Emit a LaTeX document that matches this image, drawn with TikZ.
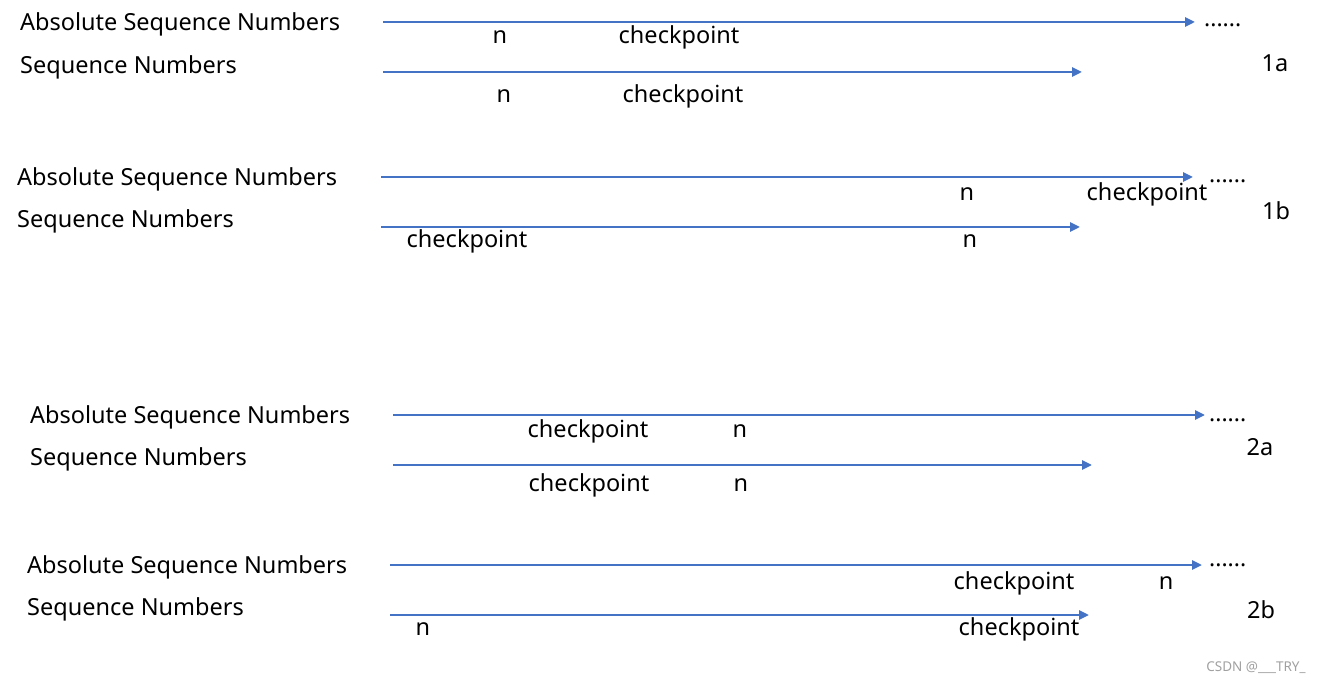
\documentclass[tikz,border=0pt]{standalone}
\usepackage{fontspec}
\setmainfont{Noto Sans}
\usetikzlibrary{arrows.meta}
\definecolor{arrowblue}{HTML}{4472C4}
\definecolor{wmgray}{HTML}{A0A0A0}
\tikzset{
  seqarrow/.style={draw=arrowblue, line width=2.7pt, -{Triangle[length=10pt,width=9pt]}},
  lbl/.style={inner sep=0pt, yshift=-1.5pt, font=\fontsize{23.5}{28}\selectfont},
  side/.style={lbl, anchor=west},
  dots/.style={inner sep=0pt, anchor=base west, font=\fontsize{23}{26}\selectfont},
}
\begin{document}
\begin{tikzpicture}[x=1pt,y=-1pt]
\useasboundingbox (0,0) rectangle (1320,684);
% ---- 1a
\node[side] (a1abs) at (20,23) {Absolute Sequence Numbers};
\node[side] (a1seq) at (20,66) {Sequence Numbers};
\coordinate (a1s1) at (383,22); \coordinate (a1e1) at (1195,22);
\coordinate (a1s2) at (383,72); \coordinate (a1e2) at (1082,72);
\draw[seqarrow] (a1s1) -- (a1e1);
\draw[seqarrow] (a1s2) -- (a1e2);
\node[lbl] (a1n1) at (500,36) {n};
\node[lbl] (a1c1) at (679,36) {checkpoint};
\node[lbl] (a1n2) at (504,95) {n};
\node[lbl] (a1c2) at (683,95) {checkpoint};
\node[dots] (a1d) at (1204,27) {......};
\node[lbl] (a1t) at (1275,62) {1a};
% ---- 1b
\node[side] (b1abs) at (17,178) {Absolute Sequence Numbers};
\node[side] (b1seq) at (17,220) {Sequence Numbers};
\coordinate (b1s1) at (381,177); \coordinate (b1e1) at (1193,177);
\coordinate (b1s2) at (381,227); \coordinate (b1e2) at (1080,227);
\draw[seqarrow] (b1s1) -- (b1e1);
\draw[seqarrow] (b1s2) -- (b1e2);
\node[lbl] (b1n1) at (967,193) {n};
\node[lbl] (b1c1) at (1147,193) {checkpoint};
\node[lbl] (b1c2) at (467,240) {checkpoint};
\node[lbl] (b1n2) at (970,240) {n};
\node[dots] (b1d) at (1209,183) {......};
\node[lbl] (b1t) at (1276,209) {1b};
% ---- 2a
\node[side] (a2abs) at (30,416) {Absolute Sequence Numbers};
\node[side] (a2seq) at (30,458) {Sequence Numbers};
\coordinate (a2s1) at (393,415); \coordinate (a2e1) at (1205,415);
\coordinate (a2s2) at (393,465); \coordinate (a2e2) at (1092,465);
\draw[seqarrow] (a2s1) -- (a2e1);
\draw[seqarrow] (a2s2) -- (a2e2);
\node[lbl] (a2c1) at (588,430) {checkpoint};
\node[lbl] (a2n1) at (740,430) {n};
\node[lbl] (a2c2) at (589,484) {checkpoint};
\node[lbl] (a2n2) at (741,484) {n};
\node[dots] (a2d) at (1209,421) {......};
\node[lbl] (a2t) at (1260,446) {2a};
% ---- 2b
\node[side] (b2abs) at (27,566) {Absolute Sequence Numbers};
\node[side] (b2seq) at (27,608) {Sequence Numbers};
\coordinate (b2s1) at (390,565); \coordinate (b2e1) at (1202,565);
\coordinate (b2s2) at (390,615); \coordinate (b2e2) at (1089,615);
\draw[seqarrow] (b2s1) -- (b2e1);
\draw[seqarrow] (b2s2) -- (b2e2);
\node[lbl] (b2c1) at (1014,582) {checkpoint};
\node[lbl] (b2n1) at (1166,582) {n};
\node[lbl] (b2n2) at (423,628) {n};
\node[lbl] (b2c2) at (1019,628) {checkpoint};
\node[dots] (b2d) at (1209,566) {......};
\node[lbl] (b2t) at (1261,608) {2b};
% watermark
\node[inner sep=0pt, text=wmgray, font=\fontsize{13.5}{15}\selectfont] (wm) at (1256,668) {CSDN @\_\_\_TRY\_};
\end{tikzpicture}
\end{document}
